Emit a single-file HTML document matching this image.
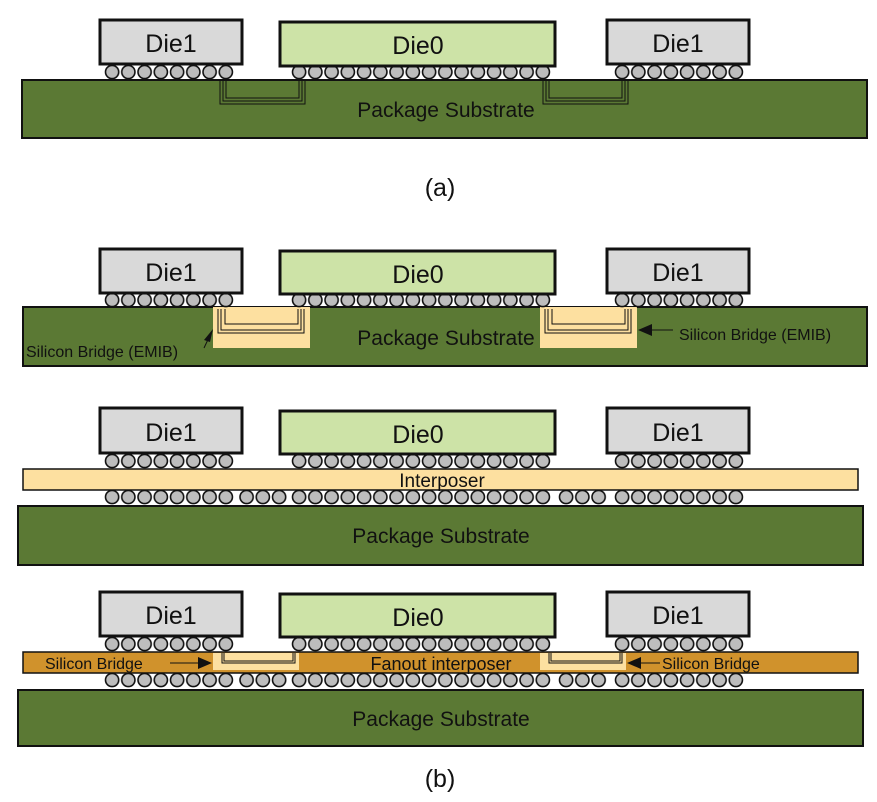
<!DOCTYPE html>
<html><head><meta charset="utf-8"><style>body{margin:0;background:#fff}svg{display:block}text{font-family:"Liberation Sans",sans-serif;fill:#111}</style></head><body>
<svg width="877" height="802" viewBox="0 0 877 802" xmlns="http://www.w3.org/2000/svg">
<defs>
<pattern id="b" patternUnits="userSpaceOnUse" x="104" y="-7.5" width="16.25" height="15">
<circle cx="8.1" cy="7.5" r="6.6" fill="#bdbdbd" stroke="#111" stroke-width="1.6"/>
</pattern>
<pattern id="c" patternUnits="userSpaceOnUse" x="291" y="-7.5" width="16.25" height="15">
<circle cx="8.1" cy="7.5" r="6.6" fill="#bdbdbd" stroke="#111" stroke-width="1.6"/>
</pattern>
<pattern id="d" patternUnits="userSpaceOnUse" x="614" y="-7.5" width="16.25" height="15">
<circle cx="8.1" cy="7.5" r="6.6" fill="#bdbdbd" stroke="#111" stroke-width="1.6"/>
</pattern>
<pattern id="e" patternUnits="userSpaceOnUse" x="238.5" y="-7.5" width="16.25" height="15">
<circle cx="8.1" cy="7.5" r="6.6" fill="#bdbdbd" stroke="#111" stroke-width="1.6"/>
</pattern>
<pattern id="f" patternUnits="userSpaceOnUse" x="558" y="-7.5" width="16.25" height="15">
<circle cx="8.1" cy="7.5" r="6.6" fill="#bdbdbd" stroke="#111" stroke-width="1.6"/>
</pattern>
</defs>
<!-- (a) -->
<rect x="22" y="80" width="845" height="58" fill="#5b7934" stroke="#111" stroke-width="2"/>
<g transform="translate(0,72)">
<rect x="104" y="-7.5" width="130" height="15" fill="url(#b)"/>
<rect x="291" y="-7.5" width="260" height="15" fill="url(#c)"/>
<rect x="614" y="-7.5" width="130" height="15" fill="url(#d)"/>
</g>
<rect x="100" y="20" width="142" height="44" fill="#d9d9d9" stroke="#111" stroke-width="3"/>
<rect x="280" y="22" width="275" height="44" fill="#cde3a7" stroke="#111" stroke-width="3"/>
<rect x="607" y="20" width="142" height="44" fill="#d9d9d9" stroke="#111" stroke-width="3"/>
<text x="171" y="52" font-size="25" text-anchor="middle">Die1</text>
<text x="418" y="54" font-size="25" text-anchor="middle">Die0</text>
<text x="678" y="52" font-size="25" text-anchor="middle">Die1</text>
<g fill="none" stroke="#111" stroke-width="1">
<path d="M220 80V104H305V80M223 80V101H302V80M226 80V98H299V80"/>
<path d="M543 80V104H628V80M546 80V101H625V80M549 80V98H622V80"/>
</g>
<text x="446" y="117" font-size="21" text-anchor="middle">Package Substrate</text>
<text x="440" y="196" font-size="25" text-anchor="middle">(a)</text>

<!-- b1 -->
<rect x="23" y="307" width="844" height="59" fill="#5b7934" stroke="#111" stroke-width="2"/>
<rect x="213" y="307" width="97" height="41" fill="#fde0a0"/>
<rect x="540" y="307" width="97" height="41" fill="#fde0a0"/>
<g fill="none" stroke="#111" stroke-width="1">
<path d="M218 309V333H304V309M221 309V330H301V309M225 309V324H298V309"/>
<path d="M545 309V333H631V309M548 309V330H628V309M552 309V324H625V309"/>
</g>
<g transform="translate(0,300)">
<rect x="104" y="-7.5" width="130" height="15" fill="url(#b)"/>
<rect x="291" y="-7.5" width="260" height="15" fill="url(#c)"/>
<rect x="614" y="-7.5" width="130" height="15" fill="url(#d)"/>
</g>
<rect x="100" y="249" width="142" height="44" fill="#d9d9d9" stroke="#111" stroke-width="3"/>
<rect x="280" y="251" width="275" height="43" fill="#cde3a7" stroke="#111" stroke-width="3"/>
<rect x="607" y="249" width="142" height="44" fill="#d9d9d9" stroke="#111" stroke-width="3"/>
<text x="171" y="281" font-size="25" text-anchor="middle">Die1</text>
<text x="418" y="283" font-size="25" text-anchor="middle">Die0</text>
<text x="678" y="281" font-size="25" text-anchor="middle">Die1</text>
<text x="446" y="345" font-size="21" text-anchor="middle">Package Substrate</text>
<text x="26" y="357" font-size="16">Silicon Bridge (EMIB)</text>
<path d="M204 348L212 331" stroke="#111" stroke-width="1"/>
<path d="M213 329L204 340L210 342Z" fill="#111"/>
<text x="679" y="340" font-size="16">Silicon Bridge (EMIB)</text>
<path d="M650 330H673" stroke="#111" stroke-width="1"/>
<path d="M638 330L652 324L652 336Z" fill="#111"/>

<!-- b2 -->
<rect x="18" y="506" width="845" height="59" fill="#5b7934" stroke="#111" stroke-width="2"/>
<rect x="23" y="469" width="835" height="21" fill="#fde0a0" stroke="#111" stroke-width="1.5"/>
<g transform="translate(0,461)">
<rect x="104" y="-7.5" width="130" height="15" fill="url(#b)"/>
<rect x="291" y="-7.5" width="260" height="15" fill="url(#c)"/>
<rect x="614" y="-7.5" width="130" height="15" fill="url(#d)"/>
</g>
<g transform="translate(0,497)">
<rect x="104" y="-7.5" width="130" height="15" fill="url(#b)"/>
<rect x="238.5" y="-7.5" width="48.75" height="15" fill="url(#e)"/>
<rect x="291" y="-7.5" width="260" height="15" fill="url(#c)"/>
<rect x="558" y="-7.5" width="48.75" height="15" fill="url(#f)"/>
<rect x="614" y="-7.5" width="130" height="15" fill="url(#d)"/>
</g>
<rect x="100" y="408" width="142" height="45" fill="#d9d9d9" stroke="#111" stroke-width="3"/>
<rect x="280" y="411" width="275" height="43" fill="#cde3a7" stroke="#111" stroke-width="3"/>
<rect x="607" y="408" width="142" height="45" fill="#d9d9d9" stroke="#111" stroke-width="3"/>
<text x="171" y="441" font-size="25" text-anchor="middle">Die1</text>
<text x="418" y="443" font-size="25" text-anchor="middle">Die0</text>
<text x="678" y="441" font-size="25" text-anchor="middle">Die1</text>
<text x="442" y="487" font-size="19" text-anchor="middle">Interposer</text>
<text x="441" y="543" font-size="21" text-anchor="middle">Package Substrate</text>

<!-- b3 -->
<rect x="18" y="690" width="845" height="56" fill="#5b7934" stroke="#111" stroke-width="2"/>
<rect x="23" y="652" width="835" height="21" fill="#d0922c" stroke="#111" stroke-width="1.5"/>
<rect x="213" y="653" width="86" height="17" fill="#fde0a0"/>
<rect x="540" y="653" width="86" height="17" fill="#fde0a0"/>
<g fill="none" stroke="#111" stroke-width="1">
<path d="M222 653V663H295V653M224 653V661H293V653"/>
<path d="M549 653V663H622V653M551 653V661H620V653"/>
</g>
<g transform="translate(0,644)">
<rect x="104" y="-7.5" width="130" height="15" fill="url(#b)"/>
<rect x="291" y="-7.5" width="260" height="15" fill="url(#c)"/>
<rect x="614" y="-7.5" width="130" height="15" fill="url(#d)"/>
</g>
<g transform="translate(0,680)">
<rect x="104" y="-7.5" width="130" height="15" fill="url(#b)"/>
<rect x="238.5" y="-7.5" width="48.75" height="15" fill="url(#e)"/>
<rect x="291" y="-7.5" width="260" height="15" fill="url(#c)"/>
<rect x="558" y="-7.5" width="48.75" height="15" fill="url(#f)"/>
<rect x="614" y="-7.5" width="130" height="15" fill="url(#d)"/>
</g>
<rect x="100" y="592" width="142" height="44" fill="#d9d9d9" stroke="#111" stroke-width="3"/>
<rect x="280" y="594" width="275" height="43" fill="#cde3a7" stroke="#111" stroke-width="3"/>
<rect x="607" y="592" width="142" height="44" fill="#d9d9d9" stroke="#111" stroke-width="3"/>
<text x="171" y="624" font-size="25" text-anchor="middle">Die1</text>
<text x="418" y="626" font-size="25" text-anchor="middle">Die0</text>
<text x="678" y="624" font-size="25" text-anchor="middle">Die1</text>
<text x="45" y="669" font-size="16">Silicon Bridge</text>
<path d="M170 663H200" stroke="#111" stroke-width="1"/>
<path d="M212 663L198 657L198 669Z" fill="#111"/>
<text x="441" y="670" font-size="18" text-anchor="middle">Fanout interposer</text>
<text x="662" y="669" font-size="16">Silicon Bridge</text>
<path d="M640 663H660" stroke="#111" stroke-width="1"/>
<path d="M627 663L641 657L641 669Z" fill="#111"/>
<text x="441" y="726" font-size="21" text-anchor="middle">Package Substrate</text>
<text x="440" y="787" font-size="25" text-anchor="middle">(b)</text>
</svg>
</body></html>
